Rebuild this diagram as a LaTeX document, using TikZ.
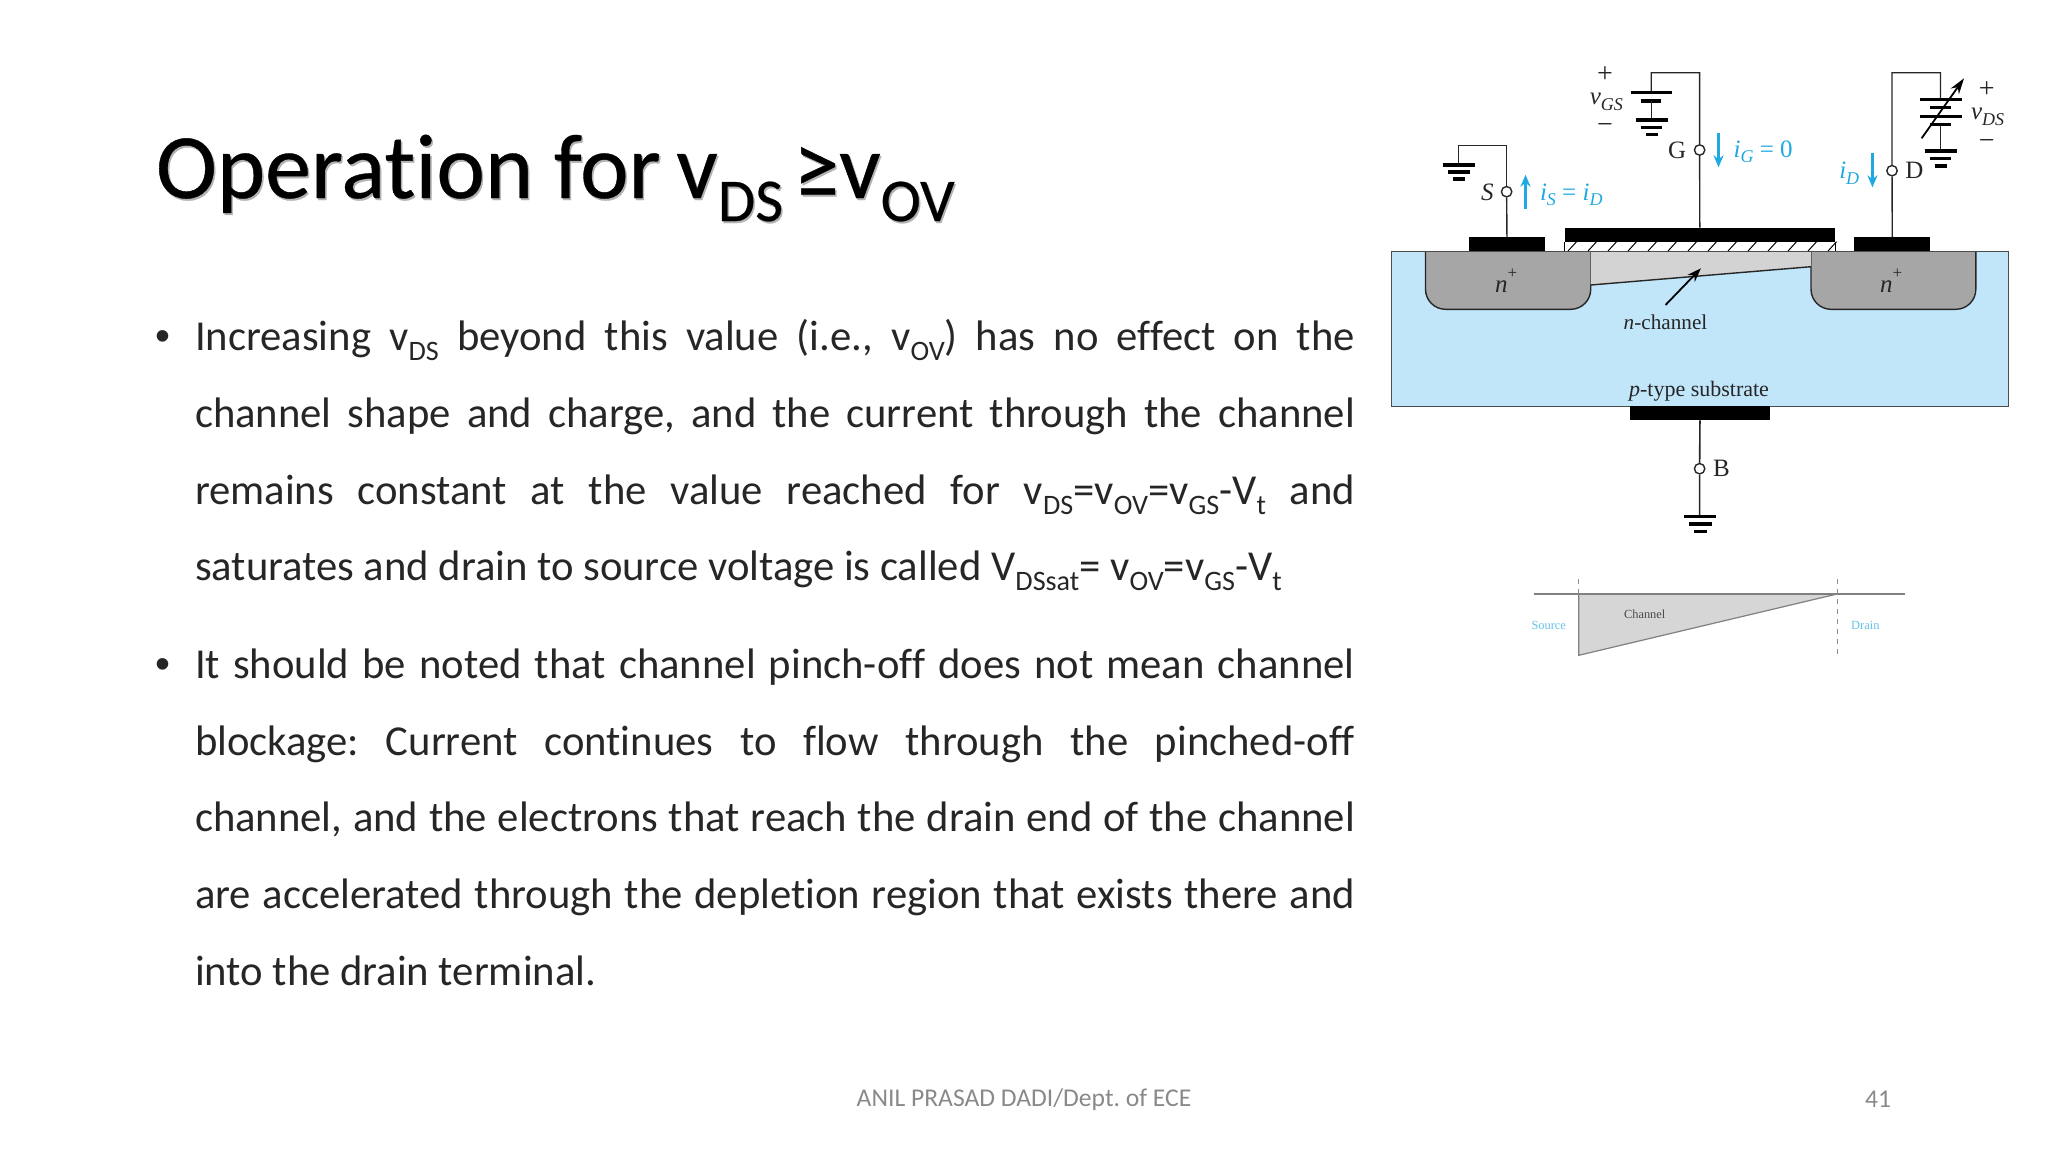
\documentclass[tikz,border=0pt]{standalone}
\usepackage{fontspec}
\usepackage{graphicx}
\setmainfont[Ligatures=NoCommon]{Carlito}
\newfontfamily\ser{Liberation Serif}
\newfontfamily\bul{Liberation Sans}
\usetikzlibrary{arrows.meta}
\definecolor{subfill}{HTML}{C1E6FA}
\definecolor{nfill}{HTML}{A6A6A6}
\definecolor{chfill}{HTML}{D3D3D3}
\definecolor{cyanl}{HTML}{1FA9E1}
\definecolor{foot}{HTML}{898989}
\definecolor{body}{HTML}{262626}
\newcommand\sbs[1]{\raisebox{-.25em}{\scalebox{.66}{#1}}}
\newcommand\bline[1]{\makebox[580pt][s]{#1}}
\newcommand\ssb[1]{\raisebox{-.22em}{\scalebox{.72}{\textit{#1}}}}
\frenchspacing
\tikzset{
  txt/.style={inner sep=0pt,outer sep=0pt},
  bodyt/.style={txt,anchor=base west,text=body,font=\frenchspacing\fontsize{21.33}{25}\selectfont},
  bult/.style={txt,anchor=base west,text=body,font=\bul\fontsize{21.33}{25}\selectfont},
  titlet/.style={txt,anchor=base west,font=\frenchspacing\fontsize{46}{52}\selectfont\addfontfeature{FakeBold=0.4}},
  lab/.style={txt,font=\ser\fontsize{12.5}{14}\selectfont,text=black!85},
  clab/.style={txt,font=\ser\fontsize{12.5}{14}\selectfont,text=cyanl},
  sgn/.style={txt,font=\ser\fontsize{14}{15}\selectfont,text=black!85},
  wire/.style={draw=black!85,line width=.7pt},
  bar/.style={draw=black,line width=1.65pt},
  term/.style={circle,draw=black!85,fill=white,line width=.7pt,inner sep=0pt,minimum size=5.2pt},
  metal/.style={fill=black,inner sep=0pt,outer sep=0pt},
  curr/.style={draw=cyanl,line width=1.2pt,-{Stealth[length=6pt,width=5pt]}},
  sketch/.style={draw=black!50,line width=.6pt},
  sdash/.style={draw=black!45,line width=.5pt,dash pattern=on 2.5pt off 2.5pt},
}
\newcommand\ttl{Operation for\hspace{.17em}v\sbs{DS}\hspace{.11em}≥v\sbs{OV}}
\begin{document}
\begin{tikzpicture}[x=.5pt,y=-.5pt]
\useasboundingbox (0,0) rectangle (2048,1152);
% title
\node[titlet,text=black!30] (titleshadow) at (157.5,200) {\ttl};
\node[titlet,text=black] (title) at (156,198) {\ttl};
% body
\node[bult] (b1) at (155,350) {•};
\node[bodyt] (l1) at (195,350) {\bline{Increasing v\sbs{DS} beyond this value (i.e., v\sbs{OV}) has no effect on the}};
\node[bodyt] (l2) at (195,427) {\bline{channel shape and charge, and the current through the channel}};
\node[bodyt] (l3) at (195,504) {\bline{remains constant at the value reached for v\sbs{DS}=v\sbs{OV}=v\sbs{GS}-V\sbs{t} and}};
\node[bodyt] (l4) at (195,580) {saturates and drain to source voltage is called V\sbs{DSsat}= v\sbs{OV}=v\sbs{GS}-V\sbs{t}};
\node[bult] (b2) at (155,678) {•};
\node[bodyt] (l5) at (195,678) {\bline{It should be noted that channel pinch-off does not mean channel}};
\node[bodyt] (l6) at (195,755) {\bline{blockage: Current continues to flow through the pinched-off}};
\node[bodyt] (l7) at (195,831.5) {\bline{channel, and the electrons that reach the drain end of the channel}};
\node[bodyt] (l8) at (195,908) {\bline{are accelerated through the depletion region that exists there and}};
\node[bodyt] (l9) at (195,985) {into the drain terminal.};
% footer
\node[txt,text=foot,font=\frenchspacing\fontsize{12.8}{15}\selectfont] (footer) at (1024,1100) {ANIL PRASAD DADI/Dept. of ECE};
\node[txt,text=foot,font=\fontsize{12.8}{15}\selectfont] (page) at (1878,1099) {41};
% substrate
\fill[subfill] (1391,251) rectangle (2008.6,406);
% n+ regions
\path[fill=nfill,draw=black!85,line width=.7pt,rounded corners=10pt] (1425.5,251) -- (1425.5,309.3) -- (1590.7,309.3) -- (1590.7,251);
\path[fill=nfill,draw=black!85,line width=.7pt,rounded corners=10pt] (1811,251) -- (1811,309.3) -- (1975.8,309.3) -- (1975.8,251);
% channel
\fill[chfill] (1590.7,251) -- (1811,251) -- (1811,266.7) -- (1590.7,285) -- cycle;
\draw[wire] (1590.7,285) -- (1811,266.7);
\draw[draw=black!70,line width=.5pt] (1391,251) rectangle (2008.6,406);
% n+ labels
\node[txt,anchor=base west,font=\ser\fontsize{12.5}{14}\selectfont\itshape,text=black!85] (nl) at (1495,292.5) {n\raisebox{.55em}{\upshape\fontsize{8.5}{9}\selectfont +}};
\node[txt,anchor=base west,font=\ser\fontsize{12.5}{14}\selectfont\itshape,text=black!85] (nr) at (1880.2,292.5) {n\raisebox{.55em}{\upshape\fontsize{8.5}{9}\selectfont +}};
% metal contacts
\node[metal,minimum width=38.2pt,minimum height=7pt] (ms) at (1507,244) {};
\node[metal,minimum width=135.2pt,minimum height=7pt] (mg) at (1699.8,234.7) {};
\node[metal,minimum width=38pt,minimum height=7pt] (md) at (1892.3,244) {};
\node[metal,minimum width=69.8pt,minimum height=7.2pt] (mb) at (1700,413.2) {};
% oxide hatching
\draw[draw=black,line width=.5pt] (1564.6,241.7) -- (1564.6,251);
\draw[draw=black,line width=.5pt] (1835,241.7) -- (1835,251);
\foreach \hx in {1568,1588,...,1828}
  \draw[draw=black,line width=.5pt] (\hx,251) -- (\hx+8.5,241.7);
% source branch
\node[term] (ts) at (1506.6,191.7) {};
\coordinate (gs) at (1458.3,165);
\coordinate (cs) at (1506.6,145.3);
\draw[wire] (ts) -- (cs) -| (gs);
\draw[wire] (ts) -- (ms);
\draw[bar] (1442.7,165) -- (1474.7,165);
\draw[bar] (1447.8,172) -- (1469.6,172);
\draw[bar] (1452.8,179) -- (1465.4,179);
\node[lab,font=\ser\itshape\fontsize{12.5}{14}\selectfont] (sl) at (1487.3,192.7) {S};
\coordinate (is0) at (1525.5,209.3);
\coordinate (is1) at (1525.5,174.7);
\draw[curr] (is0) -- (is1);
\node[clab,anchor=west] (isl) at (1540,195) {\textit{i}\ssb{S} = \textit{i}\ssb{D}};
% gate branch
\node[term] (tg) at (1699.6,150) {};
\coordinate (cg) at (1699.6,72.7);
\coordinate (bg) at (1651.2,92.3);
\coordinate (bg2) at (1651.2,120);
\draw[wire] (mg) -- (tg) -- (cg) -| (bg);
\draw[bar] (1630.6,92.3) -- (1672.3,92.3);
\draw[bar] (1641.1,101) -- (1661.3,101);
\draw[wire] (1651.2,101) -- (bg2);
\draw[bar] (1635.7,120) -- (1667.6,120);
\draw[bar] (1640.7,127.3) -- (1662.2,127.3);
\draw[bar] (1645.8,134.7) -- (1657.5,134.7);
\node[sgn] (pg) at (1605,75) {+};
\node[lab] (vg) at (1606.3,102) {\textit{v}\ssb{GS}};
\node[sgn] (mg2) at (1605,128) {−};
\node[lab] (gl) at (1677,150) {G};
\coordinate (ig0) at (1718.5,132.7);
\coordinate (ig1) at (1718.5,167.3);
\draw[curr] (ig0) -- (ig1);
\node[clab,anchor=west] (igl) at (1733.6,151.7) {\textit{i}\ssb{G} = 0};
% drain branch
\node[term] (td) at (1892,170.7) {};
\coordinate (cd) at (1892,72.7);
\coordinate (bd) at (1940.5,99.3);
\coordinate (bd2) at (1940.5,151);
\draw[wire] (md) -- (td) -- (cd) -| (bd);
\draw[bar] (1919.9,99.3) -- (1961.5,99.3);
\draw[bar] (1930.4,107.7) -- (1951,107.7);
\draw[bar] (1919.9,116.3) -- (1961.5,116.3);
\draw[bar] (1930.4,124.7) -- (1951,124.7);
\draw[wire] (1940.5,124.7) -- (bd2);
\draw[bar] (1924.5,151) -- (1956.5,151);
\draw[bar] (1929.5,158.3) -- (1951.4,158.3);
\draw[bar] (1934.6,166) -- (1946.8,166);
\coordinate (va0) at (1921.6,138.3);
\coordinate (va1) at (1964,78.3);
\draw[draw=black,line width=.9pt,-{Stealth[length=8pt,width=5pt]}] (va0) -- (va1);
\node[sgn] (pd) at (1986.7,90) {+};
\node[lab] (vd) at (1987.6,116.7) {\textit{v}\ssb{DS}};
\node[sgn] (md2) at (1986.7,144) {−};
\node[lab] (dl) at (1914.4,170.7) {D};
\coordinate (id0) at (1872.4,153.3);
\coordinate (id1) at (1872.4,187.3);
\draw[curr] (id0) -- (id1);
\node[clab] (idl) at (1849.2,173.3) {\textit{i}\ssb{D}};
% n-channel label and arrow
\node[lab,font=\ser\fontsize{10.6}{12}\selectfont] (ncl) at (1665.5,322.3) {\textit{n}-channel};
\coordinate (nca) at (1665.5,305);
\coordinate (ncb) at (1700.9,268.3);
\draw[draw=black,line width=.9pt,-{Stealth[length=7pt,width=5pt]}] (nca) -- (ncb);
% substrate label
\node[lab,font=\ser\fontsize{11}{13}\selectfont] (psub) at (1699,391.5) {\textit{p}-type substrate};
% body branch
\node[term] (tb) at (1699.6,468.7) {};
\coordinate (gb) at (1699.6,516.7);
\draw[wire,line width=.8pt] (mb) -- (tb) -- (gb);
\draw[bar] (1684,516.7) -- (1716.4,516.7);
\draw[bar] (1688.7,524) -- (1711.8,524);
\draw[bar] (1694.1,531.7) -- (1706.7,531.7);
\node[lab] (bl) at (1721.5,468.7) {B};
% channel sketch
\coordinate (t1) at (1578.7,594);
\coordinate (t2) at (1837,594);
\coordinate (t3) at (1578.7,655.3);
\coordinate (lh0) at (1534,594);
\coordinate (lh1) at (1905,594);
\coordinate (ds0) at (1578.7,579.3);
\coordinate (dd0) at (1837,579.3);
\coordinate (dd1) at (1837,655.3);
\fill[black!16] (t1) -- (t2) -- (t3) -- cycle;
\draw[sketch] (t1) -- (t3) -- (t2);
\draw[sketch] (lh0) -- (lh1);
\draw[sdash] (ds0) -- (t1);
\draw[sdash] (dd0) -- (dd1);
\node[txt,font=\ser\fontsize{6.2}{7}\selectfont,text=black!70] (chl) at (1644.7,614.3) {Channel};
\node[txt,font=\ser\fontsize{6.2}{7}\selectfont,text=cyanl!70] (srcl) at (1548.7,625) {Source};
\node[txt,font=\ser\fontsize{6.2}{7}\selectfont,text=cyanl!70] (drl) at (1865.3,625) {Drain};
\end{tikzpicture}
\end{document}
